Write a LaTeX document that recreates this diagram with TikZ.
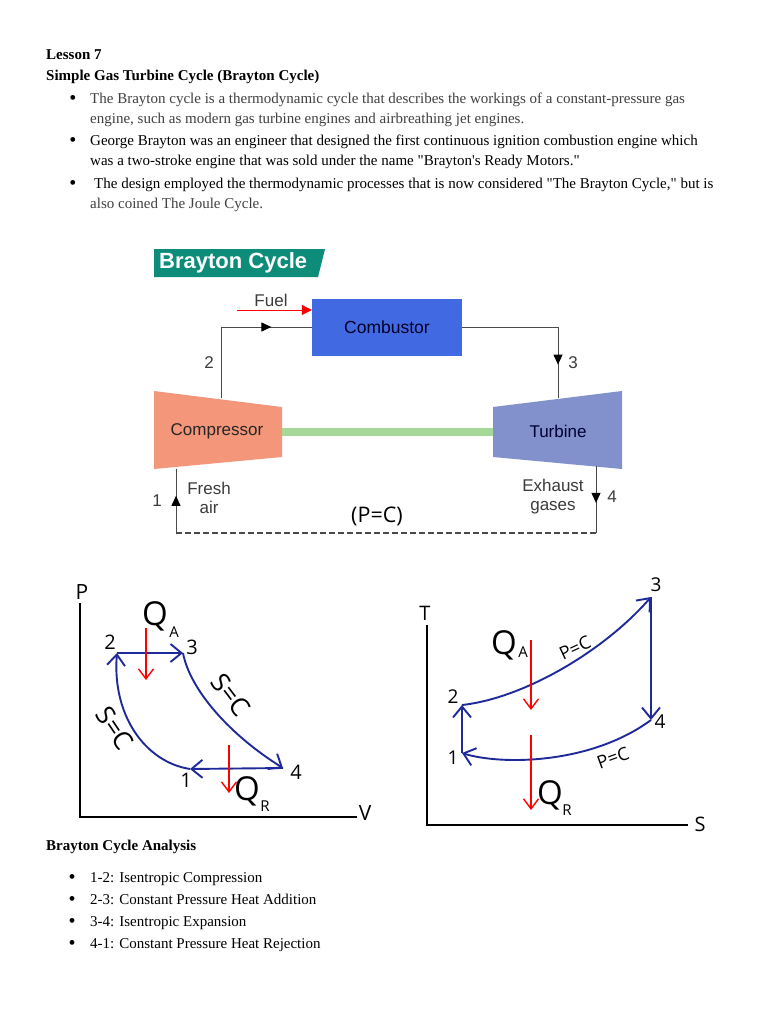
\documentclass[tikz,border=0pt]{standalone}
\usepackage{fontspec}
\setmainfont{Liberation Serif}[Ligatures=TeXOff]
\newfontfamily\arialf{Liberation Sans}
\newfontfamily\osf{Open Sans}
\usetikzlibrary{arrows.meta,decorations.markings}
\definecolor{banner}{HTML}{0E8C7A}
\definecolor{combblue}{HTML}{4169E1}
\definecolor{compsalmon}{HTML}{F4967A}
\definecolor{turbblue}{HTML}{8291CC}
\definecolor{shaftgreen}{HTML}{A6D89A}
\definecolor{pipegray}{HTML}{4A4A4A}
\definecolor{dtext}{HTML}{3C3C3C}
\definecolor{navy}{HTML}{1F2A9A}
\begin{document}
\begin{tikzpicture}[x=1pt,y=-1pt,
  txt/.style={anchor=base west,inner sep=0pt,font=\fontsize{15}{18}\selectfont},
  btxt/.style={txt,font=\fontsize{15}{18}\selectfont\bfseries},
  bul/.style={anchor=base,inner sep=0pt,font=\fontsize{20}{18}\selectfont},
  dlabel/.style={inner sep=0pt,font=\arialf\fontsize{17}{19}\selectfont,text=dtext,align=center},
  pipe/.style={draw=pipegray,line width=1pt},
  mtri/.style={postaction={decorate},decoration={markings,mark=at position #1 with {\arrow{Triangle[length=10pt,width=9pt,color=black]}}}},
  cyc/.style={draw=navy,line width=1.9pt,-{Straight Barb[length=11pt,width=18pt]}},
  heat/.style={draw=red,line width=1.4pt,-{Straight Barb[length=10pt,width=15pt]}},
  glab/.style={inner sep=0pt,font=\osf\fontsize{20}{22}\selectfont},
  sclab/.style={inner sep=0pt,font=\osf\fontsize{26}{28}\selectfont},
  qbig/.style={inner sep=0pt,font=\osf\fontsize{33}{34}\selectfont},
  qsub/.style={inner sep=0pt,font=\osf\fontsize{15}{16}\selectfont},
  axis/.style={draw=black,line width=1.8pt}
]
\useasboundingbox[fill=white] (0,0) rectangle (768,1024);

% ---------- text ----------
\node[btxt] (l1) at (46,60) {Lesson 7};
\node[btxt] (l2) at (46,81) {Simple Gas Turbine Cycle (Brayton Cycle)};
\node[bul] (b1) at (73,105) {\textbullet};
\node[txt,text=black!75] (t1a) at (90,104) {The Brayton cycle is a thermodynamic cycle that describes the workings of a constant-pressure gas};
\node[txt,text=black!75] (t1b) at (90,124) {engine, such as modern gas turbine engines and airbreathing jet engines.};
\node[bul] (b2) at (73,147) {\textbullet};
\node[txt] (t2a) at (90,146) {George Brayton was an engineer that designed the first continuous ignition combustion engine which};
\node[txt] (t2b) at (90,166) {was a two-stroke engine that was sold under the name "Brayton's Ready Motors."};
\node[bul] (b3) at (73,190) {\textbullet};
\node[txt] (t3a) at (94,189) {The design employed the thermodynamic processes that is now considered "The Brayton Cycle," but is};
\node[txt,text=black!75] (t3b) at (90,209) {also coined The Joule Cycle.};

\node[btxt] (an) at (46,850) {Brayton Cycle Analysis};
\node[bul] (ab1) at (72,883) {\textbullet};
\node[txt] (a1) at (90,882) {1-2: Isentropic Compression};
\node[bul] (ab2) at (72,905) {\textbullet};
\node[txt] (a2) at (90,904) {2-3: Constant Pressure Heat Addition};
\node[bul] (ab3) at (72,927) {\textbullet};
\node[txt] (a3) at (90,926) {3-4: Isentropic Expansion};
\node[bul] (ab4) at (72,949) {\textbullet};
\node[txt] (a4) at (90,948) {4-1: Constant Pressure Heat Rejection};

% ---------- Brayton schematic ----------
\fill[banner] (154,249) -- (325,249) -- (318,277) -- (154,277) -- cycle;
\node[inner sep=0pt,anchor=west,text=white,font=\arialf\bfseries\fontsize{22}{24}\selectfont] (bt) at (159,263) {Brayton Cycle};

\node[fill=combblue,minimum width=150pt,minimum height=57pt,inner sep=0pt,
      font=\arialf\fontsize{17.5}{19}\selectfont,text=black!85!blue] (comb) at (387,327) {Combustor};

\fill[compsalmon] (154,391) -- (282,407) -- (282,457) -- (154,469) -- cycle;
\fill[turbblue] (493,407) -- (622,391) -- (622,469) -- (493,457) -- cycle;
\fill[shaftgreen] (282,428) rectangle (493,436);
\node[dlabel,text=black!85] (comp) at (217,431) {Compressor};
\node[dlabel,text=black!80!blue] (turb) at (558,431) {Turbine};

\coordinate (c2) at (221,398);
\coordinate (c3) at (558,398);
\coordinate (c1b) at (176,469);
\coordinate (c4t) at (596,466);
\coordinate (c1) at (176,533);
\coordinate (c4) at (596,533);
\coordinate (fuel0) at (237,310);

\draw[pipe,mtri=0.75] (c2) |- (comb.west);
\draw[pipe,mtri=0.8] (comb.east) -| (c3);
\draw[pipe,mtri=0.58] (c1) -- (c1b);
\draw[pipe,mtri=0.55] (c4t) -- (c4);
\draw[pipe,line width=1.6pt,dash pattern=on 6pt off 3pt] (c1) -- (c4);
\draw[red,line width=1pt,-{Triangle[length=10pt,width=10pt]}] (fuel0) -- (fuel0 -| comb.west);

\node[dlabel] (fuel) at (271,300) {Fuel};
\node[dlabel] (n2) at (209,363) {2};
\node[dlabel] (n3) at (573,363) {3};
\node[dlabel] (n1) at (157,501) {1};
\node[dlabel] (n4) at (612,497) {4};
\node[dlabel] (fresh) at (209,498) {Fresh\\[0pt]air};
\node[dlabel] (exh) at (553,497) {Exhaust\\[0pt]gases};
\node[inner sep=0pt,font=\osf\fontsize{21.5}{23}\selectfont] (pc) at (377,516) {(P=C)};

% ---------- P-V diagram ----------
\coordinate (pvo) at (80,817);
\coordinate (pvy) at (80,603);
\coordinate (pvx) at (357,817);
\draw[axis] (pvy) -- (pvo) -- (pvx);
\node[glab,font=\osf\fontsize{21}{22}\selectfont] (pl) at (82,592) {P};
\node[glab,font=\osf\fontsize{21}{22}\selectfont] (vl) at (365,813) {V};

\coordinate (p1) at (190,769);
\coordinate (p2) at (117,653);
\coordinate (p3) at (183,653);
\coordinate (p4) at (283,768);
\draw[cyc] (p1) .. controls (145,762) and (112,715) .. (p2);
\draw[cyc] (p2) -- (p3);
\draw[cyc] (p3) .. controls (190,690) and (230,735) .. (p4);
\draw[cyc] (p4) -- (p1);

\node[glab] (pv2) at (110,642) {2};
\node[glab] (pv3) at (192,647) {3};
\node[glab] (pv4) at (296,772) {4};
\node[glab] (pv1) at (186,780) {1};

\coordinate (qa0) at (146,628);
\coordinate (qa1) at (146,680);
\draw[heat] (qa0) -- (qa1);
\node[qbig] (pvqa) at (155,616) {Q};
\node[qsub] (pvqas) at (174,632) {A};
\coordinate (qr0) at (229,745);
\coordinate (qr1) at (229,793);
\draw[heat] (qr0) -- (qr1);
\node[qbig] (pvqr) at (247,791) {Q};
\node[qsub] (pvqrs) at (265,806) {R};

\node[sclab,rotate=-53] (sc1) at (231,695) {S=C};
\node[sclab,rotate=-56] (sc2) at (115,728) {S=C};

% ---------- T-S diagram ----------
\coordinate (tso) at (427,825);
\coordinate (tsy) at (427,625);
\coordinate (tsx) at (688,825);
\draw[axis] (tsy) -- (tso) -- (tsx);
\node[glab] (tl) at (425,613) {T};
\node[glab] (sl) at (700,824) {S};

\coordinate (s1) at (462,753);
\coordinate (s2) at (462,705);
\coordinate (s3) at (651,597);
\coordinate (s4) at (651,720);
\draw[cyc] (s1) -- (s2);
\draw[cyc] (s2) .. controls (525,698) and (605,650) .. (s3);
\draw[cyc] (s3) -- (s4);
\draw[cyc] (s4) .. controls (590,765) and (500,765) .. (s1);

\node[glab,font=\osf\fontsize{19}{21}\selectfont] (ts2) at (453,697) {2};
\node[glab,font=\osf\fontsize{19}{21}\selectfont] (ts1) at (453,758) {1};
\node[glab,font=\osf\fontsize{19}{21}\selectfont] (ts3) at (656,585) {3};
\node[glab,font=\osf\fontsize{19}{21}\selectfont] (ts4) at (660,722) {4};

\coordinate (ta0) at (531,640);
\coordinate (ta1) at (531,710);
\draw[heat] (ta0) -- (ta1);
\node[qbig] (tsqa) at (504,645) {Q};
\node[qsub] (tsqas) at (523,652) {A};
\coordinate (tr0) at (531,735);
\coordinate (tr1) at (531,810);
\draw[heat] (tr0) -- (tr1);
\node[qbig] (tsqr) at (550,795) {Q};
\node[qsub] (tsqrs) at (567,810) {R};

\node[glab,font=\osf\fontsize{18}{20}\selectfont,rotate=25] (pc1) at (575,648) {P=C};
\node[glab,font=\osf\fontsize{18}{20}\selectfont,rotate=20] (pc2) at (613,758) {P=C};
\end{tikzpicture}
\end{document}
